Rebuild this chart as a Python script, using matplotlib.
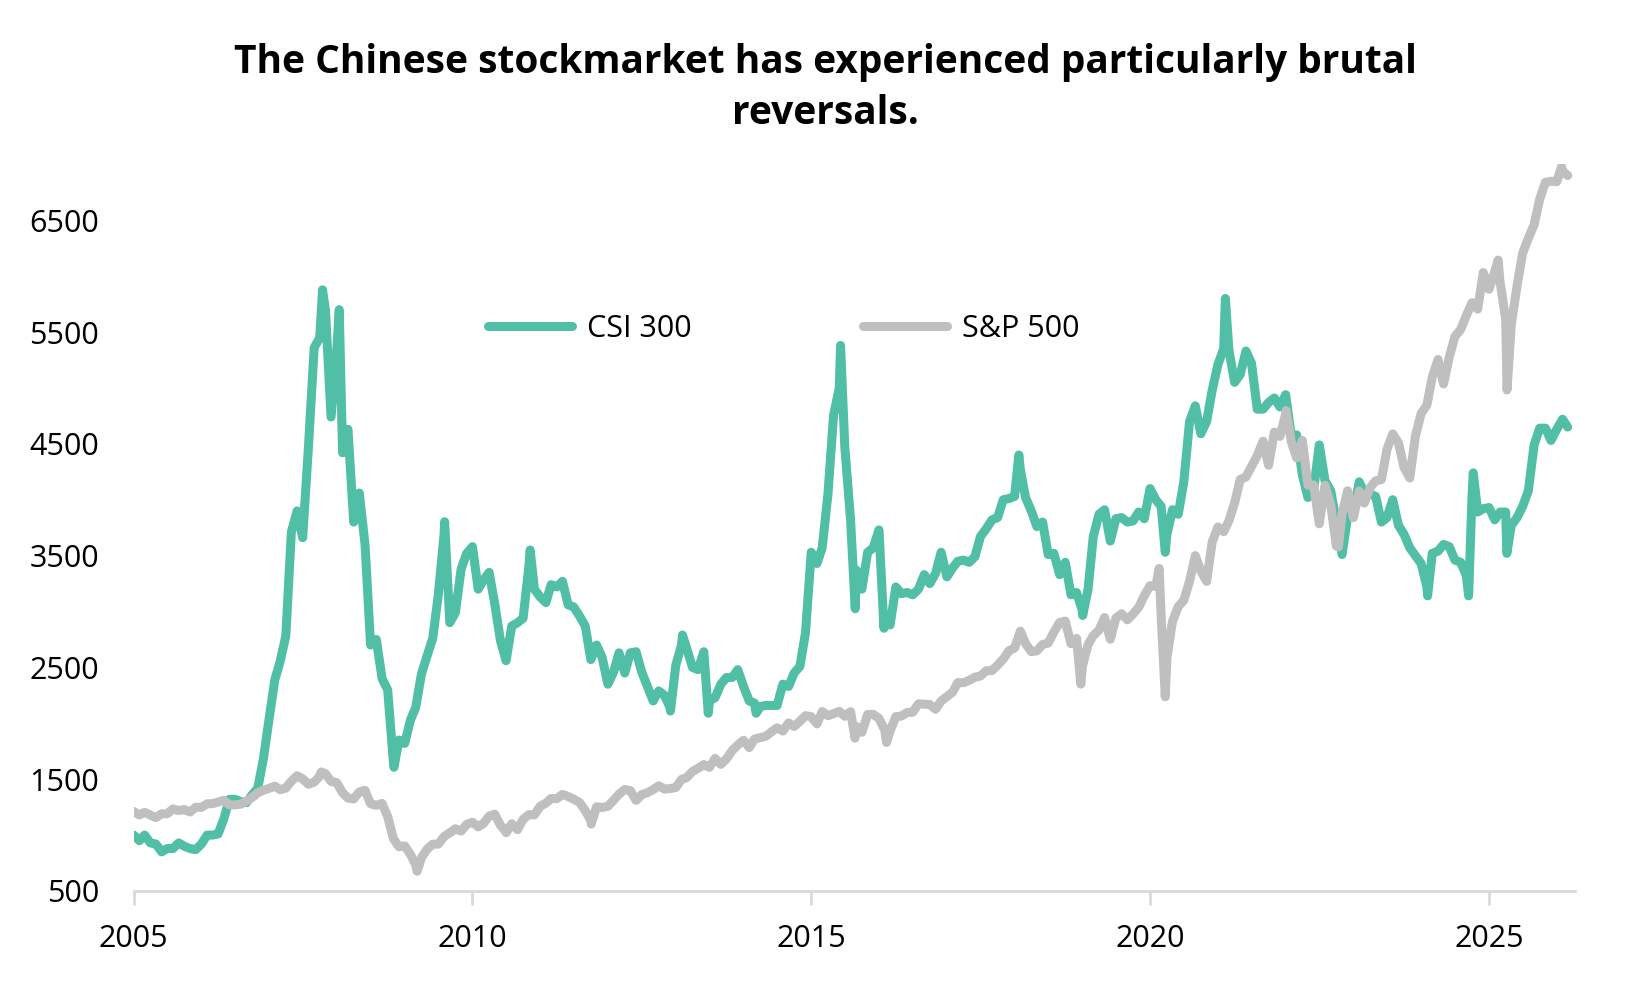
import numpy as np
import pandas as pd
import matplotlib
matplotlib.use("Agg")
import matplotlib.pyplot as plt
import matplotlib.dates as mdates

plt.rcParams['font.family'] = ['Open Sans', 'DejaVu Sans']

# start-of-month index levels, Jan 2005 .. Mar 2026
csi_monthly = [
    1000, 950, 1000, 930, 920, 850, 880, 880, 930, 900, 880, 870,
    920, 1000, 1000, 1010, 1140, 1320, 1320, 1300, 1290, 1360, 1420, 1680,
    2040, 2390, 2550, 2780, 3710, 3900, 3660, 4470, 5360, 5450, 5690, 4740,
    5340, 4420, 4630, 3800, 4060, 3600, 2700, 2750, 2400, 2300, 1650, 1850,
    1820, 2030, 2140, 2440, 2600, 2760, 3150, 3690, 2900, 2990, 3380, 3520,
    3580, 3200, 3280, 3350, 3070, 2740, 2560, 2870, 2900, 2940, 3400, 3200,
    3130, 3080, 3240, 3220, 3270, 3060, 3040, 2960, 2870, 2570, 2700, 2590,
    2350, 2460, 2630, 2450, 2630, 2640, 2460, 2330, 2200, 2290, 2250, 2140,
    2520, 2700, 2670, 2500, 2480, 2640, 2200, 2230, 2350, 2410, 2410, 2480,
    2330, 2200, 2180, 2150, 2160, 2160, 2160, 2350, 2330, 2450, 2510, 2810,
    3530, 3430, 3570, 4050, 4750, 5000, 4470, 3820, 3370, 3200, 3530, 3570,
    3730, 2950, 2880, 3220, 3160, 3170, 3150, 3200, 3330, 3250, 3340, 3530,
    3310, 3390, 3450, 3460, 3440, 3490, 3670, 3740, 3820, 3840, 4000, 4010,
    4030, 4270, 4020, 3900, 3760, 3800, 3510, 3520, 3330, 3440, 3150, 3170,
    3010, 3200, 3670, 3870, 3910, 3630, 3830, 3840, 3800, 3810, 3890, 3830,
    4100, 4000, 3940, 3690, 3910, 3870, 4160, 4700, 4840, 4590, 4700, 4980,
    5210, 5350, 5340, 5050, 5120, 5330, 5220, 4810, 4810, 4870, 4910, 4830,
    4940, 4560, 4580, 4220, 4020, 4090, 4490, 4170, 4080, 3800, 3510, 3850,
    3870, 4160, 4060, 4050, 4030, 3800, 3840, 4000, 3770, 3690, 3570, 3500,
    3430, 3220, 3520, 3540, 3600, 3580, 3460, 3440, 3320, 4020, 3890, 3920,
    3930, 3820, 3890, 3890, 3770, 3840, 3940, 4080, 4490, 4640, 4640, 4530,
    4630, 4720, 4650,
]

spx_monthly = [
    1212, 1180, 1204, 1180, 1156, 1191, 1191, 1234, 1220, 1228, 1207, 1249,
    1248, 1280, 1281, 1295, 1311, 1270, 1270, 1277, 1304, 1336, 1378, 1401,
    1418, 1438, 1407, 1421, 1482, 1531, 1503, 1455, 1474, 1527, 1549, 1481,
    1468, 1379, 1331, 1323, 1386, 1400, 1280, 1267, 1283, 1166, 969, 896,
    903, 826, 735, 798, 873, 919, 919, 987, 1021, 1057, 1036, 1096,
    1115, 1074, 1104, 1169, 1187, 1089, 1031, 1102, 1049, 1141, 1183, 1181,
    1258, 1286, 1327, 1326, 1364, 1345, 1321, 1292, 1219, 1131, 1253, 1247,
    1258, 1312, 1366, 1408, 1398, 1310, 1362, 1379, 1407, 1441, 1412, 1416,
    1426, 1498, 1515, 1569, 1598, 1631, 1606, 1686, 1633, 1682, 1757, 1806,
    1848, 1783, 1859, 1872, 1884, 1924, 1960, 1931, 2003, 1972, 2018, 2068,
    2059, 1995, 2105, 2068, 2086, 2107, 2063, 2104, 1972, 1920, 2079, 2080,
    2044, 1940, 1932, 2060, 2065, 2097, 2099, 2174, 2171, 2168, 2126, 2199,
    2239, 2279, 2364, 2363, 2384, 2412, 2423, 2470, 2472, 2519, 2575, 2648,
    2674, 2824, 2714, 2641, 2648, 2705, 2718, 2816, 2902, 2914, 2712, 2760,
    2507, 2704, 2784, 2834, 2946, 2752, 2942, 2980, 2926, 2977, 3038, 3141,
    3231, 3226, 2954, 2585, 2912, 3044, 3100, 3271, 3500, 3363, 3270, 3622,
    3756, 3714, 3811, 3973, 4181, 4204, 4298, 4395, 4523, 4308, 4605, 4567,
    4766, 4516, 4374, 4530, 4132, 4132, 3785, 4130, 3955, 3586, 3872, 4080,
    3840, 4077, 3970, 4109, 4169, 4180, 4450, 4589, 4508, 4288, 4194, 4568,
    4770, 4846, 5096, 5254, 5036, 5278, 5460, 5522, 5648, 5762, 5705, 6032,
    5882, 6041, 5955, 5612, 5569, 5912, 6205, 6339, 6460, 6688, 6840, 6849,
    6845, 6940, 6900,
]

# peaks and troughs between month starts
csi_extra_dates = ['2007-10-16', '2008-01-14', '2008-11-04', '2009-08-04', '2010-11-08',
                   '2012-12-03', '2013-02-06', '2013-06-25', '2014-03-10', '2015-06-08',
                   '2015-08-26', '2016-01-28', '2018-01-24', '2019-01-03', '2020-03-23',
                   '2021-02-10', '2024-02-05', '2024-09-13', '2024-10-08', '2025-04-07']
csi_extra_vals = [5877, 5700, 1607, 3803, 3550,
                  2110, 2790, 2090, 2090, 5380,
                  3025, 2850, 4400, 2965, 3530,
                  5800, 3140, 3140, 4240, 3520]

spx_extra_dates = ['2007-10-09', '2009-03-09', '2010-07-02', '2011-10-03', '2015-08-25',
                   '2016-02-11', '2018-12-24', '2020-02-19', '2020-03-23', '2022-01-03',
                   '2022-10-12', '2025-02-19', '2025-04-08', '2026-01-27']
spx_extra_vals = [1565, 677, 1022, 1099, 1867,
                  1829, 2351, 3386, 2237, 4797,
                  3577, 6144, 4982, 6980]

months = pd.date_range('2005-01-01', periods=len(csi_monthly), freq='MS')


def build(monthly, extra_dates, extra_vals):
    s = pd.concat([pd.Series(monthly, index=months),
                   pd.Series(extra_vals, index=pd.to_datetime(extra_dates))])
    return s.sort_index()


csi = build(csi_monthly, csi_extra_dates, csi_extra_vals)
spx = build(spx_monthly, spx_extra_dates, spx_extra_vals)

green = '#50bfa5'
grey = '#bfbfbf'
axis_grey = '#d9d9d9'

fig = plt.figure(figsize=(16.5, 9.9), dpi=100)
ax = fig.add_axes([0.081, 0.1, 0.8735, 0.734])

ax.plot(csi.index, csi.values, color=green, lw=6.5, label='CSI 300',
        solid_capstyle='round', solid_joinstyle='round')
ax.plot(spx.index, spx.values, color=grey, lw=6.5, label='S&P 500',
        solid_capstyle='round', solid_joinstyle='round')

ax.set_ylim(500, 7000)
ax.set_yticks([500, 1500, 2500, 3500, 4500, 5500, 6500])
ax.set_xlim(pd.Timestamp('2005-01-01'), pd.Timestamp('2026-04-09'))
ax.set_xticks([pd.Timestamp(f'{y}-01-01') for y in range(2005, 2030, 5)])
ax.xaxis.set_major_formatter(mdates.DateFormatter('%Y'))

for side in ['top', 'right', 'left']:
    ax.spines[side].set_visible(False)
ax.spines['bottom'].set_color(axis_grey)
ax.spines['bottom'].set_linewidth(2)
ax.tick_params(axis='x', length=10, width=2, color=axis_grey, labelsize=22, pad=14)
ax.tick_params(axis='y', length=0, labelsize=22, pad=25)

ax.legend(loc='center', bbox_to_anchor=(0.451, 0.774), ncol=2, frameon=False,
          fontsize=22, handlelength=2.75, handletextpad=0.5, columnspacing=5.6)

fig.text(0.5, 0.957, 'The Chinese stockmarket has experienced particularly brutal\nreversals.',
         ha='center', va='top', fontsize=28, fontweight='bold', linespacing=1.4)

fig.savefig('out.png', dpi=100)
